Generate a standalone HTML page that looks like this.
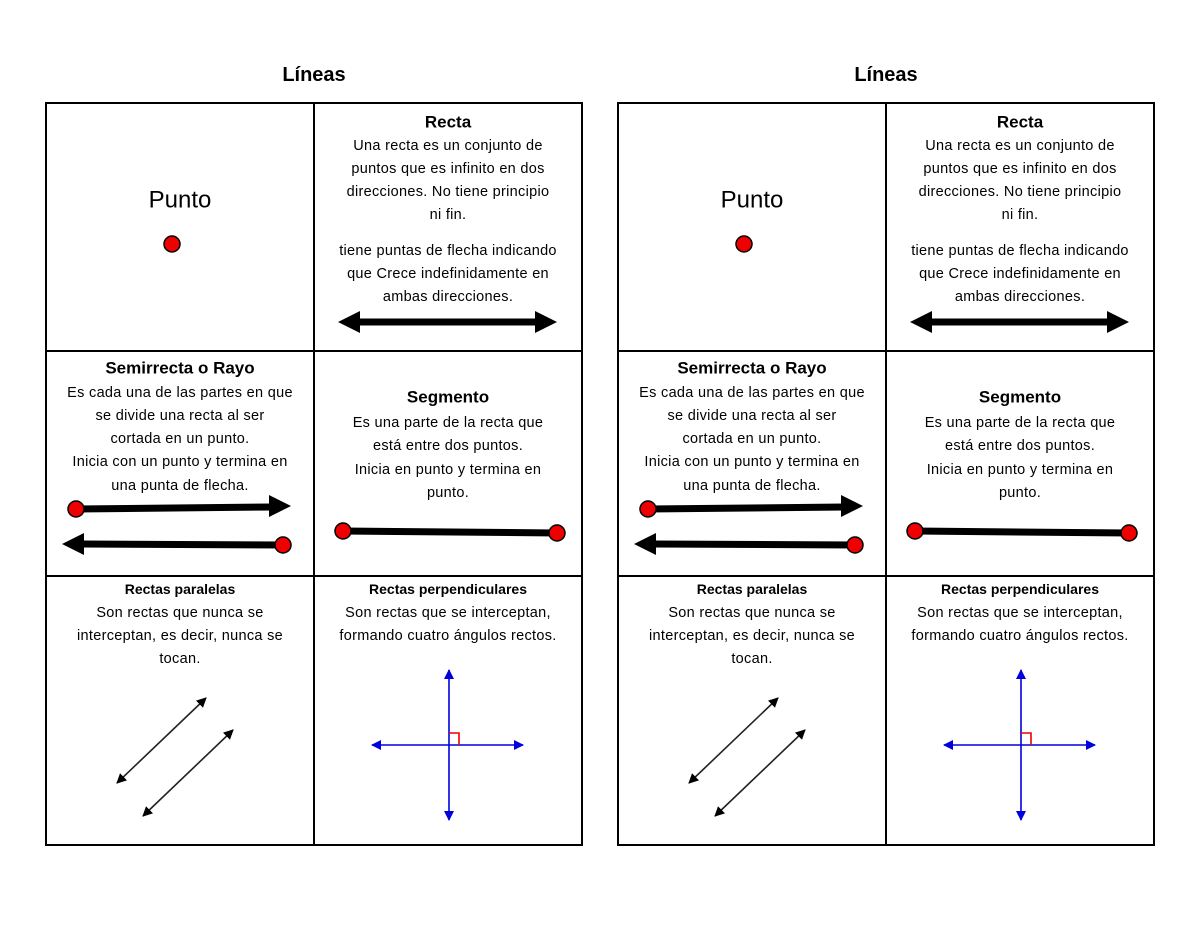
<!DOCTYPE html>
<html><head><meta charset="utf-8"><style>
html,body{margin:0;padding:0;background:#fff;}
svg{display:block;}
text{font-family:"Liberation Sans",sans-serif;fill:#000;}
.b{font-weight:bold;}
.t{font-size:14.5px;letter-spacing:0.3px;}
</style></head><body>
<svg width="1200" height="927" viewBox="0 0 1200 927" xmlns="http://www.w3.org/2000/svg">
<defs>
<marker id="ab" markerWidth="10" markerHeight="10" refX="9" refY="5" orient="auto-start-reverse" markerUnits="userSpaceOnUse"><path d="M0,0 L10,5 L0,10 Z" fill="#000"/></marker>
<marker id="au" markerWidth="10" markerHeight="10" refX="9" refY="5" orient="auto-start-reverse" markerUnits="userSpaceOnUse"><path d="M0,0 L10,5 L0,10 Z" fill="#0000dd"/></marker>
<g id="panel">
<text x="314" y="75" text-anchor="middle" dominant-baseline="central" class="b" font-size="20">Líneas</text>
<rect x="46" y="103" width="536" height="742" fill="none" stroke="#000" stroke-width="2"/>
<line x1="314" y1="103" x2="314" y2="845" stroke="#000" stroke-width="2"/>
<line x1="46" y1="351" x2="582" y2="351" stroke="#000" stroke-width="2"/>
<line x1="46" y1="576" x2="582" y2="576" stroke="#000" stroke-width="2"/>
<g text-anchor="middle" dominant-baseline="central">
<text x="180" y="200" font-size="24">Punto</text>
<text x="448" y="122" class="b" font-size="17">Recta</text>
<text x="448" y="146" class="t">Una recta es un conjunto de</text>
<text x="448" y="169" class="t">puntos que es infinito en dos</text>
<text x="448" y="192" class="t">direcciones. No tiene principio</text>
<text x="448" y="215" class="t">ni fin.</text>
<text x="448" y="251" class="t">tiene puntas de flecha indicando</text>
<text x="448" y="274" class="t">que Crece indefinidamente en</text>
<text x="448" y="297" class="t">ambas direcciones.</text>
<text x="180" y="368" class="b" font-size="17">Semirrecta o Rayo</text>
<text x="180" y="393" class="t">Es cada una de las partes en que</text>
<text x="180" y="416" class="t">se divide una recta al ser</text>
<text x="180" y="439" class="t">cortada en un punto.</text>
<text x="180" y="462" class="t">Inicia con un punto y termina en</text>
<text x="180" y="486" class="t">una punta de flecha.</text>
<text x="448" y="397" class="b" font-size="17">Segmento</text>
<text x="448" y="423" class="t">Es una parte de la recta que</text>
<text x="448" y="446" class="t">está entre dos puntos.</text>
<text x="448" y="470" class="t">Inicia en punto y termina en</text>
<text x="448" y="493" class="t">punto.</text>
<text x="180" y="589" class="b" font-size="14">Rectas paralelas</text>
<text x="180" y="613" class="t">Son rectas que nunca se</text>
<text x="180" y="636" class="t">interceptan, es decir, nunca se</text>
<text x="180" y="659" class="t">tocan.</text>
<text x="448" y="589" class="b" font-size="14">Rectas perpendiculares</text>
<text x="448" y="613" class="t">Son rectas que se interceptan,</text>
<text x="448" y="636" class="t">formando cuatro ángulos rectos.</text>
</g>
<circle cx="172" cy="244" r="8" fill="#e00" stroke="#000" stroke-width="1.5"/>
<line x1="358" y1="322" x2="537" y2="322" stroke="#000" stroke-width="7"/>
<path d="M338,322 L360,311 L360,333 Z M557,322 L535,311 L535,333 Z" fill="#000"/>
<line x1="76" y1="509" x2="272" y2="507" stroke="#000" stroke-width="7"/>
<path d="M291,506 L269,495 L269,517 Z" fill="#000"/>
<circle cx="76" cy="509" r="8" fill="#e00" stroke="#000" stroke-width="1.5"/>
<line x1="82" y1="544" x2="283" y2="545" stroke="#000" stroke-width="7"/>
<path d="M62,544 L84,533 L84,555 Z" fill="#000"/>
<circle cx="283" cy="545" r="8" fill="#e00" stroke="#000" stroke-width="1.5"/>
<line x1="343" y1="531" x2="557" y2="533" stroke="#000" stroke-width="7"/>
<circle cx="343" cy="531" r="8" fill="#e00" stroke="#000" stroke-width="1.5"/>
<circle cx="557" cy="533" r="8" fill="#e00" stroke="#000" stroke-width="1.5"/>
<line x1="117" y1="783" x2="206" y2="698" stroke="#222" stroke-width="1.6" marker-start="url(#ab)" marker-end="url(#ab)"/>
<line x1="143" y1="816" x2="233" y2="730" stroke="#222" stroke-width="1.6" marker-start="url(#ab)" marker-end="url(#ab)"/>
<line x1="372" y1="745" x2="523" y2="745" stroke="#0000dd" stroke-width="1.6" marker-start="url(#au)" marker-end="url(#au)"/>
<line x1="449" y1="670" x2="449" y2="820" stroke="#0000dd" stroke-width="1.6" marker-start="url(#au)" marker-end="url(#au)"/>
<path d="M449,733 L459,733 L459,745" fill="none" stroke="#e00" stroke-width="1.6"/>
</g>
</defs>
<use href="#panel"/>
<use href="#panel" transform="translate(572,0)"/>
</svg>
</body></html>
